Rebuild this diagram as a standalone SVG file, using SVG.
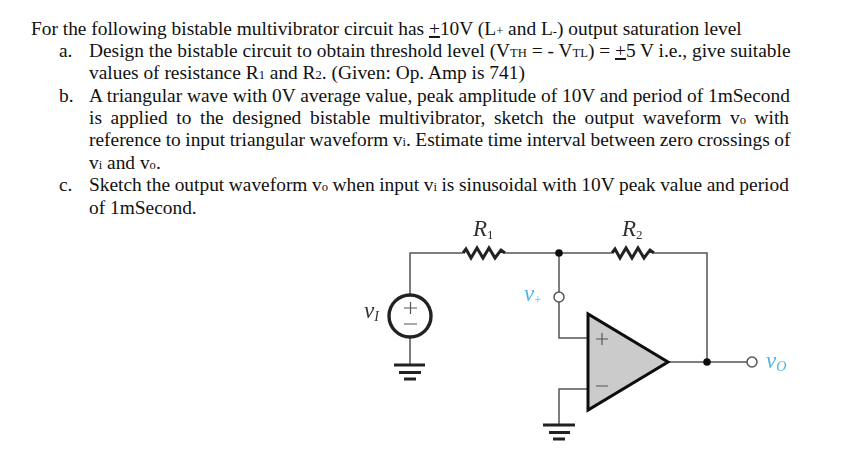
<svg xmlns="http://www.w3.org/2000/svg" width="856" height="467" viewBox="0 0 856 467">
<style>
.t{font-family:"Liberation Serif","Times New Roman",serif;font-size:19.4px;fill:#111}
.s{font-size:12.6px}
.u{text-decoration:underline}
.w{fill:none;stroke:#555;stroke-width:1.5}
.r{fill:none;stroke:#222;stroke-width:3;stroke-linejoin:miter}
.g{stroke:#222;stroke-width:3;fill:none}
.d{fill:#111}
.o{fill:#fff;stroke:#555;stroke-width:1.5}
.l{font-family:"Liberation Serif","Times New Roman",serif;font-style:italic;font-size:23px;fill:#333}
.b{fill:#4db5e6}
.n{font-style:normal;font-size:13px}
.i{font-style:italic;font-size:14px}
</style>
<defs><filter id="soft" x="-5%" y="-5%" width="110%" height="110%"><feGaussianBlur stdDeviation="0.45"/></filter></defs>
<rect width="856" height="467" fill="#fff"/>
<g id="problem-text">
<text class="t" x="31" y="35">For the following bistable multivibrator circuit has <tspan class="u">+</tspan>10V (L<tspan class="s">+</tspan> and L<tspan class="s">-</tspan>) output saturation level</text>
<text class="t" x="59" y="57">a.</text>
<text class="t" x="89" y="57">Design the bistable circuit to obtain threshold level (V<tspan class="s">TH</tspan> = - V<tspan class="s">TL</tspan>) = <tspan class="u">+</tspan>5 V i.e., give suitable</text>
<text class="t" x="89" y="79">values of resistance R<tspan class="s">1</tspan> and R<tspan class="s">2</tspan>. (Given: Op. Amp is 741)</text>
<text class="t" x="59" y="102">b.</text>
<text class="t" x="89" y="102">A triangular wave with 0V average value, peak amplitude of 10V and period of 1mSecond</text>
<text class="t" x="89" y="124" word-spacing="3.8">is applied to the designed bistable multivibrator, sketch the output waveform v<tspan class="s">o</tspan> with</text>
<text class="t" x="89" y="146" word-spacing="-0.3">reference to input triangular waveform v<tspan class="s">i</tspan>. Estimate time interval between zero crossings of</text>
<text class="t" x="89" y="169">v<tspan class="s">i</tspan> and v<tspan class="s">o</tspan>.</text>
<text class="t" x="59" y="191">c.</text>
<text class="t" x="89" y="191" word-spacing="-0.25">Sketch the output waveform v<tspan class="s">o</tspan> when input v<tspan class="s">i</tspan> is sinusoidal with 10V peak value and period</text>
<text class="t" x="89" y="214">of 1mSecond.</text>
</g>
<g id="circuit" filter="url(#soft)">
<g id="connectors">
<path class="w" d="M410 295V253H463M505 253H612M654 253H707V362M559 253V292M559 302V338H588M668 362H747M588 389H559V425M410 337V365"/>
</g>
<g id="r1">
<path class="r" d="M463 253L466 249L471 258L477 248L483 258L489 248L495 258L501 250L505 253"/>
<text class="l" x="473" y="236">R<tspan class="n" dy="3">1</tspan></text>
</g>
<g id="r2">
<path class="r" d="M612 253L615 249L620 258L626 248L632 258L638 248L644 258L650 250L654 253"/>
<text class="l" x="622" y="236">R<tspan class="n" dy="3">2</tspan></text>
</g>
<g id="source">
<circle cx="410" cy="316" r="21" fill="#fff" stroke="#222" stroke-width="3.4"/>
<path d="M404 308H417M410.500 302V314M404 324H417" stroke="#555" stroke-width="1.2" fill="none"/>
<text class="l" x="364" y="318">v<tspan class="i" dy="3">I</tspan></text>
</g>
<g id="ground-source">
<path class="g" d="M394 365H425M399 372.500H421M404 379H416"/>
</g>
<g id="ground-opamp">
<path class="g" d="M543 425H575M549 432.500H570M553 439H565"/>
</g>
<g id="junction-top"><circle class="d" cx="559" cy="253" r="3.800"/></g>
<g id="terminal-vplus">
<circle class="o" cx="559" cy="297" r="5"/>
<text class="l b" x="524" y="301">v<tspan class="n b" dy="3">+</tspan></text>
</g>
<g id="opamp">
<path d="M588 314V410L668 362Z" fill="#cbcbcb" stroke="#111" stroke-width="3" stroke-linejoin="miter"/>
<path d="M596 339H608M602 333V345M596 386H608" stroke="#555" stroke-width="1.2" fill="none"/>
</g>
<g id="junction-output"><circle class="d" cx="707" cy="362" r="3.800"/></g>
<g id="terminal-vo">
<circle class="o" cx="752" cy="362" r="5"/>
<text class="l b" x="766" y="368">v<tspan class="i b" dy="3">O</tspan></text>
</g>
</g>
</svg>
